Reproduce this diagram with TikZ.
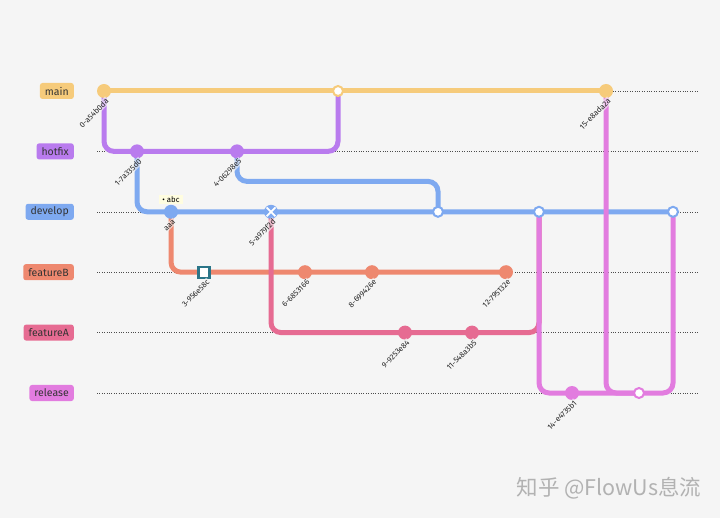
\documentclass[tikz,border=0pt]{standalone}
\usepackage{fontspec}
\setmainfont{Fira Sans}
\newfontfamily\cjkfont{Noto Sans CJK SC}
\usetikzlibrary{positioning, shapes.misc}

\definecolor{bgc}{HTML}{F5F5F5}
\definecolor{mainc}{HTML}{F6CB7B}
\definecolor{hotfixc}{HTML}{B97BEE}
\definecolor{developc}{HTML}{7EA9F0}
\definecolor{featureBc}{HTML}{EE886F}
\definecolor{featureAc}{HTML}{E66B92}
\definecolor{releasec}{HTML}{E27CDF}
\definecolor{hlc}{HTML}{2B7588}

\pgfdeclarelayer{bg}
\pgfdeclarelayer{lines}
\pgfsetlayers{bg,lines,main}

\begin{document}
\begin{tikzpicture}[x=1pt, y=-1pt,
    branch/.style={rounded corners=2.5pt, inner xsep=5pt, inner ysep=2.5pt,
        minimum height=16pt, text=black!80, font=\fontsize{10.5}{11}\selectfont},
    commit/.style={circle, inner sep=0pt, minimum size=14pt},
    merge/.style={circle, inner sep=0pt, minimum size=10pt, line width=2pt, fill=white, draw},
    hash/.style={rotate=45, anchor=east, inner sep=1pt, text=black!85,
        fill=bgc, fill opacity=0.6, text opacity=1, font=\fontsize{7.8}{8}\selectfont},
    tagbox/.style={fill=yellow!12, inner xsep=3pt, inner ysep=1.5pt, font=\fontsize{7.8}{8}\selectfont},
    gitline/.style={line width=5pt, rounded corners=10pt},
    guide/.style={dotted, thin, black!70}]

    % 分支名稱
    \node[branch, fill=mainc, anchor=east]                              (lmain)     at (74,91) {main};
    \node[branch, fill=hotfixc, below=60.4pt of lmain.east, anchor=east]      (lhotfix)   {hotfix};
    \node[branch, fill=developc, below=60.4pt of lhotfix.east, anchor=east]   (ldevelop)  {develop};
    \node[branch, fill=featureBc, below=60.4pt of ldevelop.east, anchor=east] (lfeatureB) {featureB};
    \node[branch, fill=featureAc, below=60.4pt of lfeatureB.east, anchor=east] (lfeatureA) {featureA};
    \node[branch, fill=releasec, below=60.4pt of lfeatureA.east, anchor=east] (lrelease)  {release};

    % commits
    \node[commit, fill=mainc]      (c0)   at (104,0 |- lmain) {};
    \node[merge, draw=mainc]       (m1)   at (338,0 |- lmain) {};
    \node[commit, fill=mainc]      (c15)  at (606,0 |- lmain) {};
    \node[commit, fill=hotfixc]    (c1)   at (137,0 |- lhotfix) {};
    \node[commit, fill=hotfixc]    (c4)   at (237,0 |- lhotfix) {};
    \node[commit, fill=developc]   (caaa) at (171,0 |- ldevelop) {};
    \node[commit, fill=developc]   (c5)   at (271,0 |- ldevelop) {};
    \node[cross out, draw=white, line width=1.8pt, minimum size=7pt, inner sep=0pt] (x5) at (c5) {};
    \node[merge, draw=developc]    (m2)   at (438,0 |- ldevelop) {};
    \node[merge, draw=developc]    (m3)   at (539,0 |- ldevelop) {};
    \node[merge, draw=developc]    (m4)   at (673,0 |- ldevelop) {};
    \node[draw=hlc, fill=white, line width=2.2pt, minimum size=11pt, inner sep=0pt] (c3) at (204,0 |- lfeatureB) {};
    \node[commit, fill=featureBc]  (c6)   at (305,0 |- lfeatureB) {};
    \node[commit, fill=featureBc]  (c8)   at (372,0 |- lfeatureB) {};
    \node[commit, fill=featureBc]  (c12)  at (506,0 |- lfeatureB) {};
    \node[commit, fill=featureAc]  (c9)   at (405,0 |- lfeatureA) {};
    \node[commit, fill=featureAc]  (c11)  at (472,0 |- lfeatureA) {};
    \node[commit, fill=releasec]   (c14)  at (572,0 |- lrelease) {};
    \node[merge, draw=releasec]    (m5)   at (639,0 |- lrelease) {};

    \node[tagbox, above=0pt of caaa] (tabc) {\textbullet\ abc};

    % commit id
    \node[hash] (h0)   at ([shift={(4,8)}]c0.center)   {0-a54b0da};
    \node[hash] (h15)  at ([shift={(4,8)}]c15.center)  {15-e8ada2a};
    \node[hash] (h1)   at ([shift={(4,8)}]c1.center)   {1-7a335d0};
    \node[hash] (h4)   at ([shift={(4,8)}]c4.center)   {4-06298e5};
    \node[hash] (haaa) at ([shift={(4,8)}]caaa.center) {aaa};
    \node[hash] (h5)   at ([shift={(4,8)}]c5.center)   {5-a979f2d};
    \node[hash] (h3)   at ([shift={(5,8)}]c3.center)   {3-956e58c};
    \node[hash] (h6)   at ([shift={(4,8)}]c6.center)   {6-6853166};
    \node[hash] (h8)   at ([shift={(4,8)}]c8.center)   {8-699426e};
    \node[hash] (h12)  at ([shift={(4,8)}]c12.center)  {12-795132e};
    \node[hash] (h9)   at ([shift={(4,8)}]c9.center)   {9-9253e84};
    \node[hash] (h11)  at ([shift={(4,8)}]c11.center)  {11-548a3b5};
    \node[hash] (h14)  at ([shift={(4,8)}]c14.center)  {14-e4735b1};

    \node[text=black!30, font=\cjkfont\fontsize{21.5}{23}\selectfont] (wm) at (609,488) {知乎 @FlowUs息流};

    \begin{pgfonlayer}{lines}
        \draw[gitline, mainc]     (c0.center) -- (c15.center);
        \draw[gitline, hotfixc]   (c0.center) |- (c4.center) -| (m1.center);
        \draw[gitline, developc]  (c1.center) |- (m4.center);
        \draw[gitline, developc]  (c4.center) -- ++(0,30) -| (m2.center);
        \draw[gitline, featureBc] (caaa.center) |- (c12.center);
        \draw[gitline, featureAc] (c5.center) |- (c11.center) -| (m3.center);
        \draw[gitline, releasec]  (m3.center) |- (m5.center) -| (m4.center);
        \draw[gitline, releasec]  (c15.center) |- (m5.center);
    \end{pgfonlayer}

    \begin{pgfonlayer}{bg}
        \fill[bgc] (0,0) rectangle (720,518);
        \foreach \l in {lmain, lhotfix, ldevelop, lfeatureB, lfeatureA, lrelease}
            \draw[guide] (97,0 |- \l.east) -- (698,0 |- \l.east);
    \end{pgfonlayer}
\end{tikzpicture}
\end{document}
